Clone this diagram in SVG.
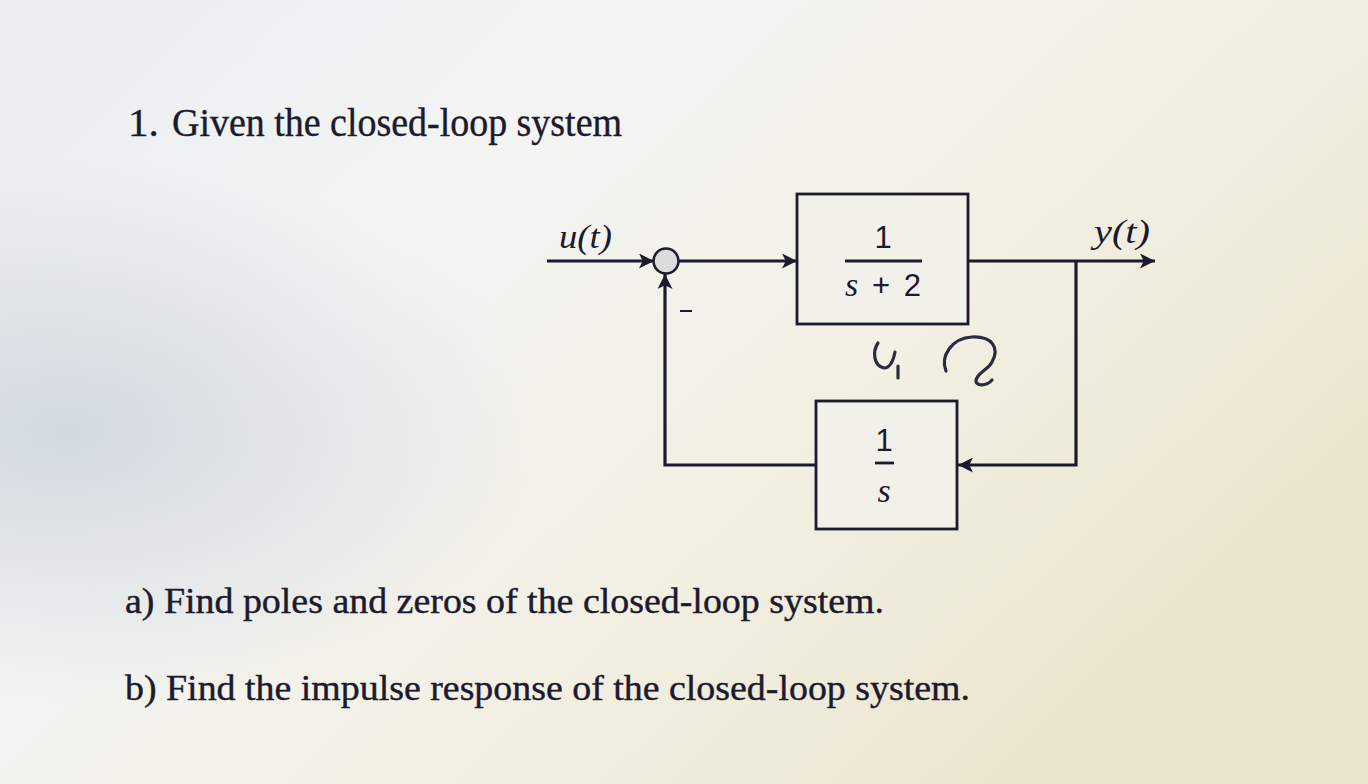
<svg xmlns="http://www.w3.org/2000/svg" width="1368" height="784" viewBox="0 0 1368 784">
<defs>
<linearGradient id="bg" x1="0" y1="0" x2="1" y2="0.6">
<stop offset="0" stop-color="#e9edf1"/>
<stop offset="0.35" stop-color="#f4f5f3"/>
<stop offset="0.7" stop-color="#f2efe2"/>
<stop offset="1" stop-color="#ebe5cf"/>
</linearGradient>
<radialGradient id="lblue" cx="0.05" cy="0.55" r="0.35">
<stop offset="0" stop-color="#cfd6df" stop-opacity="0.9"/>
<stop offset="1" stop-color="#cfd6df" stop-opacity="0"/>
</radialGradient>
<marker id="arr" viewBox="0 0 10 10" refX="10" refY="5" markerWidth="17" markerHeight="15" markerUnits="userSpaceOnUse" orient="auto">
<path d="M0,0 L10,5 L0,10 L2.5,5 z" fill="#1c1a2e"/>
</marker>
<style>
.ink{stroke:#1c1a2e;fill:none;stroke-width:3.2}
.box{stroke:#1c1a2e;fill:#f1f1ea;stroke-width:2.8}
.t{font-family:"Liberation Serif","Times New Roman",serif;fill:#1c1a2e;stroke:#1c1a2e;stroke-width:0.4}
.m{font-family:"Liberation Serif","Times New Roman",serif;fill:#1c1a2e;font-style:italic}
.f{font-family:"Liberation Sans",Arial,sans-serif;fill:#1c1a2e}
.hw{stroke:#2a2a40;fill:none;stroke-width:3.2;stroke-linecap:round;stroke-linejoin:round}
</style>
</defs>
<rect width="1368" height="784" fill="url(#bg)"/>
<rect width="1368" height="784" fill="url(#lblue)"/>

<g id="title">
<text class="t" x="128" y="136" font-size="41">1.</text>
<text class="t" x="172" y="136" font-size="41" textLength="450" lengthAdjust="spacingAndGlyphs">Given the closed-loop system</text>
</g>

<g id="connectors">
<line class="ink" x1="547" y1="261" x2="654" y2="261" marker-end="url(#arr)"/>
<line class="ink" x1="679" y1="261" x2="797" y2="261" marker-end="url(#arr)"/>
<line class="ink" x1="968" y1="261" x2="1155" y2="261" marker-end="url(#arr)"/>
<polyline class="ink" points="1076,261 1076,465 958,465" marker-end="url(#arr)"/>
<polyline class="ink" points="816,465 665,465 665,274" marker-end="url(#arr)"/>
</g>

<g id="sum">
<circle cx="666" cy="261" r="12.5" fill="#dcdcdc" stroke="#1c1a2e" stroke-width="2.5"/>
<line x1="680" y1="311" x2="692" y2="311" stroke="#1c1a2e" stroke-width="2"/>
</g>

<g id="input-label">
<text class="m" x="559" y="248" font-size="33" textLength="53" lengthAdjust="spacingAndGlyphs">u(t)</text>
</g>
<g id="output-label">
<text class="m" x="1094" y="243" font-size="33" textLength="56" lengthAdjust="spacingAndGlyphs">y(t)</text>
</g>

<g id="plant">
<rect class="box" x="797" y="194" width="171" height="130"/>
<text class="f" x="883" y="248" font-size="31" text-anchor="middle">1</text>
<line x1="845" y1="261" x2="922" y2="261" stroke="#1c1a2e" stroke-width="2.8"/>
<text class="f" x="845" y="296" font-size="31" textLength="76" lengthAdjust="spacing"><tspan font-family="Liberation Serif" font-style="italic" font-size="34">s</tspan> + 2</text>
</g>

<g id="feedback">
<rect class="box" x="816" y="401" width="141" height="128"/>
<text class="f" x="884" y="451" font-size="31" text-anchor="middle">1</text>
<line x1="875" y1="463" x2="894" y2="463" stroke="#1c1a2e" stroke-width="2.8"/>
<text class="m" x="884" y="502" font-size="34" text-anchor="middle">s</text>
</g>

<g id="handwriting">
<path class="hw" d="M878,343 C872,352 874,366 884,368 C890,368 893,362 895,352"/>
<path class="hw" d="M898,366 L898,378"/>
<path class="hw" d="M946,371 C940,356 952,338 972,337 C992,336 1000,348 992,362 C988,370 978,372 976,380 C975,386 986,387 992,380"/>
</g>

<g id="questions">
<text class="t" x="125" y="613" font-size="35" textLength="759" lengthAdjust="spacingAndGlyphs">a) Find poles and zeros of the closed-loop system.</text>
<text class="t" x="125" y="700" font-size="35" textLength="845" lengthAdjust="spacingAndGlyphs">b) Find the impulse response of the closed-loop system.</text>
</g>
</svg>
